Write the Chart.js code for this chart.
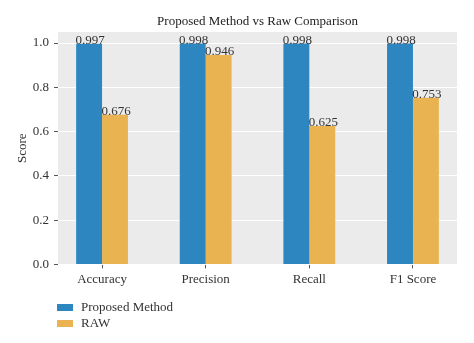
<!DOCTYPE html>
<html>
<head>
<meta charset="utf-8">
<script src="https://cdn.jsdelivr.net/npm/chart.js@4.4.1/dist/chart.umd.min.js"></script>
<style>
    html, body { margin: 0; padding: 0; background: #fff; }
    #wrap { position: relative; width: 474px; height: 343px; }
    #legend { position: absolute; left: 57px; top: 299px; font-family: 'Liberation Serif', serif; font-size: 13px; color: #333; }
    #legend .item { display: flex; align-items: center; height: 16px; }
    #legend .box { width: 16px; height: 7px; margin-right: 8px; }
</style>
</head>
<body>
<div id="wrap">
    <canvas id="scoreChart" width="474" height="343"></canvas>
    <div id="legend"></div>
</div>
<script>
const categories = ['Accuracy', 'Precision', 'Recall', 'F1 Score'];
const seriesNames = ['Proposed Method', 'RAW'];
const proposedScores = [0.997, 0.998, 0.998, 0.998];
const rawScores = [0.676, 0.946, 0.625, 0.753];
const yTicks = [0.0, 0.2, 0.4, 0.6, 0.8, 1.0];

const BLUE = '#2e86c1';
const ORANGE = '#e9b351';

Chart.defaults.font.family = "'Liberation Serif', serif";
Chart.defaults.font.size = 13;
Chart.defaults.color = '#333';

function toPoints(values) {
    return values.map((v, i) => ({ x: i, y: v }));
}

// grey panel behind the plot area
const panelBackground = {
    id: 'panelBackground',
    beforeDraw(chart) {
        const { ctx, chartArea: a } = chart;
        ctx.save();
        ctx.fillStyle = '#ebebeb';
        ctx.fillRect(a.left, a.top, a.right - a.left, a.bottom - a.top);
        ctx.restore();
    }
};

// centre the title over the plot area instead of the whole canvas
const titleOverPlot = {
    id: 'titleOverPlot',
    afterLayout(chart) {
        if (chart.titleBlock) {
            chart.titleBlock.left = chart.chartArea.left;
            chart.titleBlock.right = chart.chartArea.right;
        }
    }
};

// value text on top of each bar
const barValues = {
    id: 'barValues',
    afterDatasetsDraw(chart) {
        const { ctx } = chart;
        ctx.save();
        ctx.font = "13px 'Liberation Serif', serif";
        ctx.fillStyle = '#333';
        ctx.textAlign = 'center';
        ctx.textBaseline = 'alphabetic';
        chart.data.datasets.forEach((ds, di) => {
            chart.getDatasetMeta(di).data.forEach((bar, i) => {
                ctx.fillText(ds.data[i].y.toFixed(3), bar.x + 1, bar.y);
            });
        });
        ctx.restore();
    }
};

const chart = new Chart(document.getElementById('scoreChart'), {
    type: 'bar',
    data: {
        datasets: [
            { label: seriesNames[0], data: toPoints(proposedScores), backgroundColor: BLUE },
            { label: seriesNames[1], data: toPoints(rawScores), backgroundColor: ORANGE }
        ]
    },
    options: {
        responsive: false,
        animation: false,
        categoryPercentage: 0.5,
        barPercentage: 1.0,
        layout: { padding: { left: 0, right: 17, top: 0, bottom: 52 } },
        plugins: {
            legend: { display: false },
            tooltip: { enabled: false },
            title: {
                display: true,
                text: 'Proposed Method vs Raw Comparison',
                color: '#222',
                font: { size: 13, weight: 'normal' },
                padding: { top: 14, bottom: 2.4 }
            }
        },
        scales: {
            x: {
                type: 'linear',
                min: -0.425,
                max: 3.425,
                offset: false,
                border: { display: false },
                grid: { offset: false, drawOnChartArea: false, tickColor: '#555', tickLength: 4 },
                afterBuildTicks: axis => { axis.ticks = categories.map((c, i) => ({ value: i })); },
                ticks: {
                    padding: 3.5,
                    maxRotation: 0,
                    callback: v => categories[v]
                }
            },
            y: {
                min: 0,
                max: 1.05,
                border: { display: false },
                grid: { color: '#ffffff', lineWidth: 1, tickColor: '#555', tickLength: 4 },
                afterBuildTicks: axis => { axis.ticks = yTicks.map(v => ({ value: v })); },
                afterFit: axis => { axis.width = 58; },
                ticks: {
                    padding: 5,
                    callback: v => v.toFixed(1)
                },
                title: {
                    display: true,
                    text: 'Score',
                    padding: { top: 15, bottom: 0 }
                }
            }
        }
    },
    plugins: [panelBackground, titleOverPlot, barValues]
});

// legend rows built from the chart's datasets
const legendEl = document.getElementById('legend');
chart.data.datasets.forEach(ds => {
    const row = document.createElement('div');
    row.className = 'item';
    const box = document.createElement('span');
    box.className = 'box';
    box.style.background = ds.backgroundColor;
    const label = document.createElement('span');
    label.textContent = ds.label;
    row.appendChild(box);
    row.appendChild(label);
    legendEl.appendChild(row);
});
</script>
</body>
</html>
